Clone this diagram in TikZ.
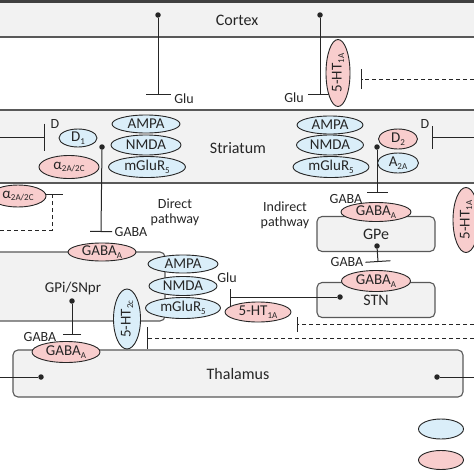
\documentclass[tikz,border=0pt]{standalone}
\usepackage{fontspec}
\setmainfont{Carlito}
\usetikzlibrary{shapes.geometric,arrows.meta}
\definecolor{bfill}{HTML}{F2F2F2}
\definecolor{bline}{HTML}{595959}
\definecolor{topd}{HTML}{404040}
\definecolor{rblue}{HTML}{DAEEF9}
\definecolor{rpink}{HTML}{F8CDCD}
\definecolor{ink}{HTML}{262626}
\newcommand\sbs[1]{\raisebox{-0.35ex}{\fontsize{9}{9}\selectfont #1}}
\begin{document}
\begin{tikzpicture}[x=1pt,y=-1pt,
  rec/.style={ellipse,draw=ink,line width=0.9pt,inner sep=0pt,font=\fontsize{15}{15}\selectfont,text=ink},
  recb/.style={rec,fill=rblue},
  recp/.style={rec,fill=rpink},
  es/.style 2 args={minimum width=#1pt,minimum height=#2pt},
  region/.style={rectangle,rounded corners=5pt,draw=bline,line width=1.1pt,fill=bfill},
  rname/.style={font=\fontsize{16}{16}\selectfont,text=ink,inner sep=0pt},
  lbl/.style={font=\fontsize{14}{15}\selectfont,text=ink,inner sep=0pt},
  dotn/.style={circle,fill=ink,inner sep=0pt,minimum size=5.5pt},
  axon/.style={draw=ink,line width=1pt},
  inh/.style={-{Bar[width=#1pt]}},
  dsh/.style={dash pattern=on 4pt off 3pt},
]
\clip (0,0) rectangle (474,474);
\fill[white] (0,0) rectangle (474,474);
% bands
\fill[topd] (0,0) rectangle (474,2.5);
\fill[bfill] (0,2.5) rectangle (474,37);
\draw[bline,line width=1.3pt] (0,37) -- (474,37);
\fill[bfill] (0,110) rectangle (474,183);
\draw[bline,line width=1.3pt] (0,110) -- (474,110);
\draw[bline,line width=1.3pt] (0,183) -- (474,183);
% region boxes
\node[region,es={175}{69}] (gpi) at (77.5,286.5) {};
\node[region,es={118}{35},rname] (gpe) at (376,234) {GPe};
\node[region,es={118}{35},rname] (stn) at (376,300) {STN};
\node[region,es={450}{47},rname] (thal) at (238,373.5) {Thalamus};
% dots
\node[dotn] (cd1) at (158,15) {};
\node[dotn] (cd2) at (320,15) {};
\node[dotn] (dd) at (102,147) {};
\node[dotn] (id) at (377,147) {};
\node[dotn] (gd) at (377,246) {};
\node[dotn] (sd) at (340,297) {};
\node[dotn] (pd) at (72,301) {};
\node[dotn] (tdL) at (41,377) {};
\node[dotn] (tdR) at (437,377) {};
% coordinates
\coordinate (cb1) at (158,95);
\coordinate (cb2) at (320,95);
\coordinate (db) at (101,232);
\coordinate (ib) at (377,193);
\coordinate (gb) at (378,262);
\coordinate (sb) at (230,297);
\coordinate (pb) at (72,335);
\coordinate (eL) at (0,137);
\coordinate (bL) at (45,137);
\coordinate (eR) at (474,137);
\coordinate (bR) at (432,137);
\coordinate (e1) at (474,79);
\coordinate (t1) at (361,79);
\coordinate (e3) at (0,230);
\coordinate (k3) at (52,230);
\coordinate (t3) at (52,194);
\coordinate (e4) at (474,324);
\coordinate (t4) at (297,324);
\coordinate (e5) at (474,338);
\coordinate (t5) at (147,338);
\coordinate (e6) at (0,377);
\coordinate (e7) at (474,377);
% connectors
\draw[axon,inh=25] (cd1) -- (cb1);
\draw[axon,inh=24] (cd2) -- (cb2);
\draw[axon,inh=22] (dd) -- (db);
\draw[axon,inh=21] (id) -- (ib);
\draw[axon,inh=25] (gd) -- (gb);
\draw[axon,inh=17] (sd) -- (sb);
\draw[axon,inh=18] (pd) -- (pb);
\draw[axon,inh=27] (eL) -- (bL);
\draw[axon,inh=23] (eR) -- (bR);
\draw[axon,dsh,inh=20] (e1) -- (t1);
\draw[axon,dsh,inh=22] (e3) -- (k3) -- (t3);
\draw[axon,dsh,inh=15] (e4) -- (t4);
\draw[axon,dsh,inh=22] (e5) -- (t5);
\draw[axon] (e6) -- (tdL);
\draw[axon] (tdR) -- (e7);
% receptors
\node[recp,es={67}{24},rotate=90] (ht1) at (338,73) {5-HT\sbs{1A}};
\node[recb,es={38}{18}] (dr1) at (78,138) {D\sbs{1}};
\node[recp,es={60}{23}] (al1) at (69,167) {α\sbs{2A/2C}};
\node[recp,es={56}{22}] (al2) at (18,196) {α\sbs{2A/2C}};
\node[recb,es={68}{18}] (am1) at (146,124) {AMPA};
\node[recb,es={70}{20}] (nm1) at (146,145) {NMDA};
\node[recb,es={77}{21}] (mg1) at (147,167) {mGluR\sbs{5}};
\node[recb,es={66}{18}] (am2) at (330,125) {AMPA};
\node[recb,es={67}{20}] (nm2) at (330,145) {NMDA};
\node[recb,es={76}{21}] (mg2) at (331,167) {mGluR\sbs{5}};
\node[recp,es={39}{20}] (dr2) at (398,139) {D\sbs{2}};
\node[recb,es={41}{20}] (a2a) at (398,163) {A\sbs{2A}};
\node[recp,es={65}{26},rotate=90] (ht3) at (466,220) {5-HT\sbs{1A}};
\node[recp,es={70}{19}] (gpeA) at (376,212) {GABA\sbs{A}};
\node[recp,es={69}{21}] (stnA) at (376,281) {GABA\sbs{A}};
\node[recp,es={68}{18}] (gpiA) at (102,252) {GABA\sbs{A}};
\node[recb,es={70}{18}] (am3) at (183,264) {AMPA};
\node[recb,es={68}{19}] (nm3) at (183,286) {NMDA};
\node[recb,es={75}{21}] (mg3) at (183,308) {mGluR\sbs{5}};
\node[recb,es={60}{27},rotate=90] (ht2c) at (127,319) {5-HT\sbs{2c}};
\node[recp,es={66}{20}] (ht2) at (258,312) {5-HT\sbs{1A}};
\node[recp,es={68}{21}] (thA) at (66,352) {GABA\sbs{A}};
\node[recb,es={45}{20}] (legb) at (441,429) {};
\node[recp,es={45}{19}] (legp) at (441,460) {};
% labels
\node[rname] (ctx) at (237,20) {Cortex};
\node[rname] (str) at (238,148) {Striatum};
\node[rname,font=\fontsize{15}{15}\selectfont] (gpil) at (73,288) {GPi/SNpr};
\node[lbl] (glu1) at (184,99) {Glu};
\node[lbl] (glu2) at (294,98) {Glu};
\node[lbl] (glu3) at (227,278) {Glu};
\node[lbl] (dL) at (55,124) {D};
\node[lbl] (dR) at (425,124) {D};
\node[lbl] (gaba1) at (131,232) {GABA};
\node[lbl] (gaba2) at (346,199) {GABA};
\node[lbl] (gaba3) at (347,262) {GABA};
\node[lbl] (gaba4) at (40,337) {GABA};
\node[lbl,align=center] (dpw) at (175,212) {Direct\\pathway};
\node[lbl,align=center] (ipw) at (285,215) {Indirect\\pathway};
\end{tikzpicture}
\end{document}
